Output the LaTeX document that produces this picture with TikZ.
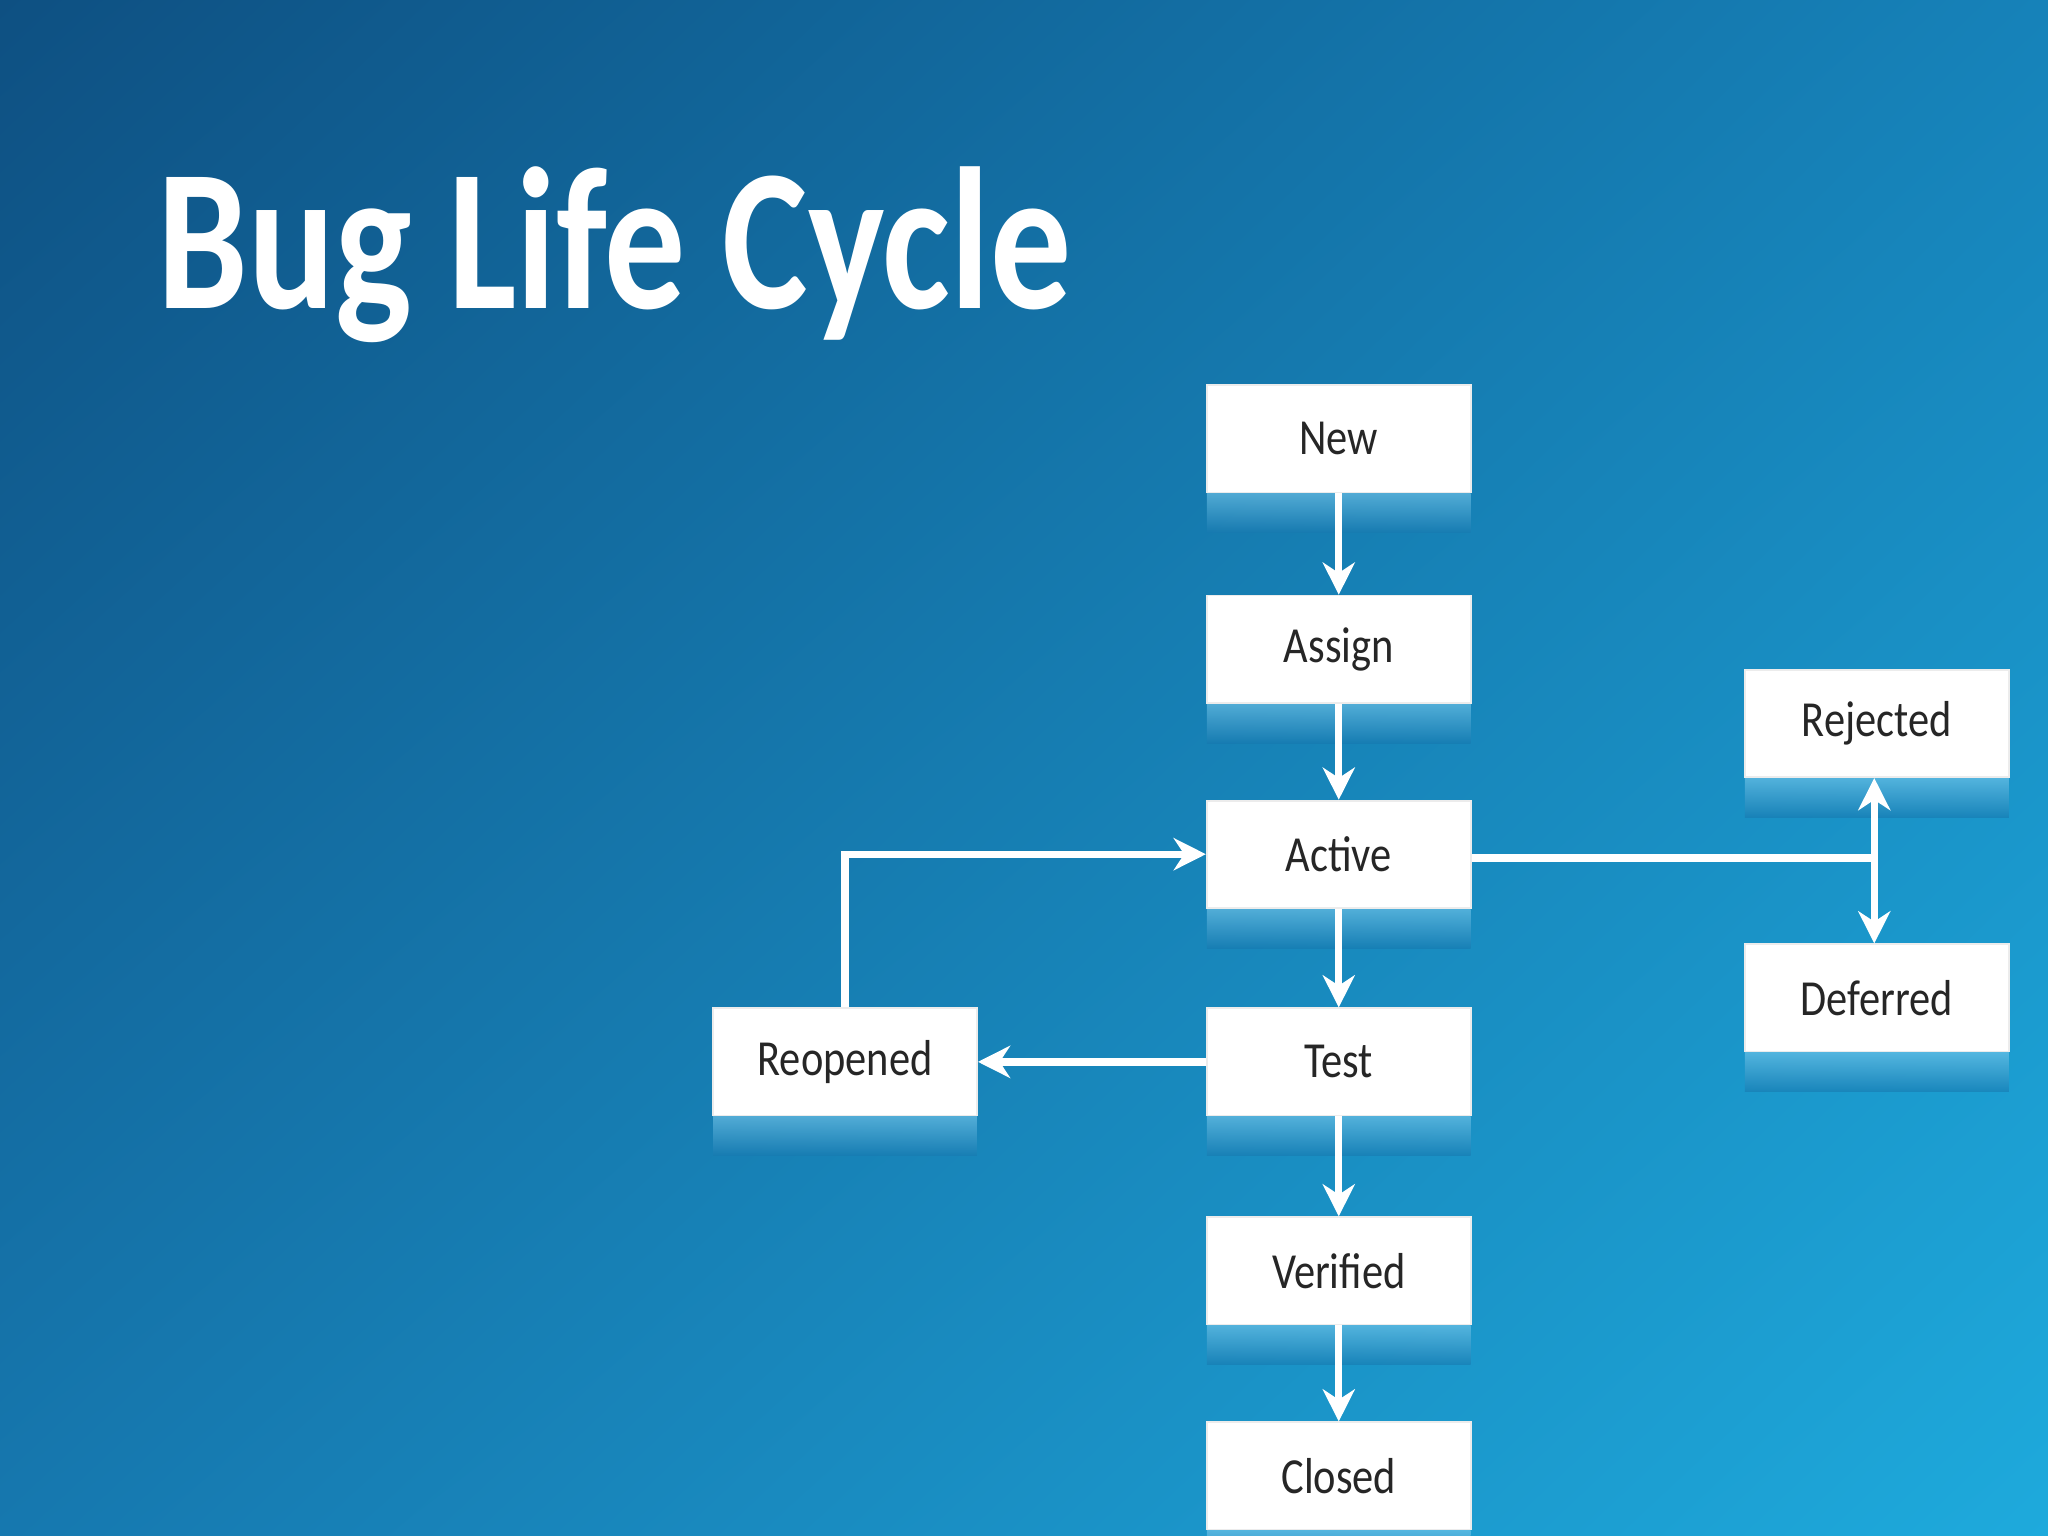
\documentclass[tikz,border=0pt]{standalone}
\usepackage{fontspec}
\setmainfont{Carlito}
\newfontfamily\condfont[FakeStretch=0.84]{Carlito}
\newfontfamily\titlefont[FakeStretch=0.8]{Carlito}
\usetikzlibrary{arrows.meta,shadings}
\definecolor{bgA}{RGB}{14,80,130}
\definecolor{bgB}{RGB}{22,130,185}
\definecolor{bgC}{RGB}{22,120,175}
\definecolor{bgD}{RGB}{30,170,220}
\definecolor{refl}{RGB}{120,200,235}
\begin{document}
\begin{tikzpicture}[x=0.01cm,y=-0.01cm,
  box/.style={draw=white!85!gray,fill=white,minimum width=2.02cm,minimum height=0.82cm,inner sep=0pt,font=\condfont\fontsize{11}{13}\selectfont,text=black!85},
  conn/.style={white,line width=1.6pt,-{Stealth[length=7pt,width=7pt]}},
  seg/.style={white,line width=1.6pt}]
\useasboundingbox (0,0) rectangle (1568,1176);
\shade[upper left=bgA,upper right=bgB,lower left=bgC,lower right=bgD]
  (0,0) rectangle (1568,1176);
\node[text=white,font=\titlefont\bfseries\fontsize{44}{50}\selectfont,anchor=base west,inner sep=0pt] (title) at (120,236) {Bug Life Cycle};
\foreach \n/\t/\x/\y in {new/New/1025/336,assign/Assign/1025/497,active/Active/1025/654,test/Test/1025/813,
  verified/Verified/1025/973,closed/Closed/1025/1130,reopened/Reopened/647/813,rejected/Rejected/1437/554,deferred/Deferred/1437/764}{
  \shade[top color=refl,bottom color=refl!0!bgC,opacity=0.6] (\x-101,\y+42) rectangle (\x+101,\y+72);
  \node[box] (\n) at (\x,\y) {\t};
}
\draw[conn] (new) -- (assign);
\draw[conn] (assign) -- (active);
\draw[conn] (active) -- (test);
\draw[conn] (test) -- (verified);
\draw[conn] (verified) -- (closed);
\draw[conn] (test.west) -- (reopened.east);
\draw[conn] (reopened.north) |- (active.west);
\coordinate (split) at (1435,657);
\draw[seg] (active.east |- split) -- (split);
\draw[conn] (split) -- (rejected.south -| split);
\draw[conn] (split) -- (deferred.north -| split);
\end{tikzpicture}
\end{document}
